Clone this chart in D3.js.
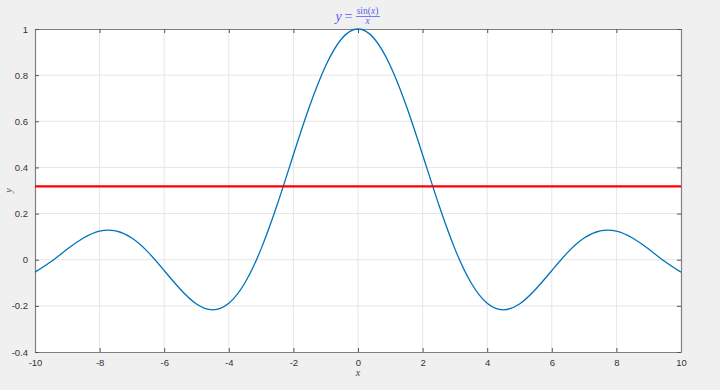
<!DOCTYPE html>
<html>
<head>
<meta charset="utf-8">
<script src="https://cdn.jsdelivr.net/npm/d3@7"></script>
<style>
  html, body { margin: 0; padding: 0; background: #f0f0f0; }
  svg { display: block; font-family: "Liberation Sans", Arial, sans-serif; }
</style>
</head>
<body>
<div id="chart"></div>
<script>
// values
const xValues = [-10, -9.5, -9, -8.5, -8, -7.5, -7, -6.5, -6, -5.5, -5, -4.5, -4, -3.5, -3, -2.5, -2, -1.5, -1, -0.5,
  0, 0.5, 1, 1.5, 2, 2.5, 3, 3.5, 4, 4.5, 5, 5.5, 6, 6.5, 7, 7.5, 8, 8.5, 9, 9.5, 10];
const yValues = [-0.054, -0.008, 0.046, 0.094, 0.124, 0.125, 0.094, 0.033, -0.047, -0.128, -0.192, -0.217, -0.189, -0.100, 0.047, 0.239, 0.455, 0.665, 0.841, 0.959,
  1, 0.959, 0.841, 0.665, 0.455, 0.239, 0.047, -0.100, -0.189, -0.217, -0.192, -0.128, -0.047, 0.033, 0.094, 0.125, 0.124, 0.094, 0.046, -0.008, -0.054];
const refLevel = 0.318;
const xTicks = [-10, -8, -6, -4, -2, 0, 2, 4, 6, 8, 10];
const yTicks = [-0.4, -0.2, 0, 0.2, 0.4, 0.6, 0.8, 1];

const W = 720, H = 390;
const margin = { top: 29, right: 39, bottom: 38, left: 35 };
const width = W - margin.left - margin.right;
const height = H - margin.top - margin.bottom;

const svg = d3.select("#chart").append("svg")
  .attr("width", W).attr("height", H);

const g = svg.append("g").attr("transform", `translate(${margin.left},${margin.top})`);

const x = d3.scaleLinear().domain([-10, 10]).range([0, width]);
const y = d3.scaleLinear().domain([-0.4, 1]).range([height, 0]);

g.append("rect").attr("width", width).attr("height", height).attr("fill", "#fff");

// grid
g.selectAll(".vgrid").data(xTicks.slice(1, -1)).enter().append("line")
  .attr("x1", d => x(d)).attr("x2", d => x(d)).attr("y1", 0).attr("y2", height)
  .attr("stroke", "#e6e6e6").attr("stroke-width", 1);
g.selectAll(".hgrid").data(yTicks.slice(1, -1)).enter().append("line")
  .attr("y1", d => y(d)).attr("y2", d => y(d)).attr("x1", 0).attr("x2", width)
  .attr("stroke", "#e6e6e6").attr("stroke-width", 1);

const axisColor = "#808080";
const fmt = d => String(+d.toFixed(1));  // plain hyphen minus, like the reference

// axes (box on, ticks inside)
const styleAxis = ax => {
  ax.select(".domain").attr("stroke", axisColor).attr("stroke-width", 1.2);
  ax.selectAll(".tick line").attr("stroke", "#555");
  ax.selectAll(".tick text").attr("fill", "#333").style("font-size", "9.5px");
};
g.append("g").attr("transform", `translate(0,${height})`)
  .call(d3.axisBottom(x).tickValues(xTicks).tickFormat(fmt).tickSizeInner(-4).tickSizeOuter(0).tickPadding(7))
  .call(styleAxis);
g.append("g")
  .call(d3.axisTop(x).tickValues(xTicks).tickFormat("").tickSizeInner(-4).tickSizeOuter(0))
  .call(styleAxis);
g.append("g")
  .call(d3.axisLeft(y).tickValues(yTicks).tickFormat(fmt).tickSizeInner(-4).tickSizeOuter(0).tickPadding(7))
  .call(styleAxis);
g.append("g").attr("transform", `translate(${width},0)`)
  .call(d3.axisRight(y).tickValues(yTicks).tickFormat("").tickSizeInner(-4).tickSizeOuter(0))
  .call(styleAxis);

// curve
const pts = xValues.map((v, i) => [v, yValues[i]]);
g.append("path").datum(pts)
  .attr("fill", "none").attr("stroke", "#0072BD").attr("stroke-width", 1.3)
  .attr("d", d3.line().x(d => x(d[0])).y(d => y(d[1])).curve(d3.curveNatural));

// reference line
g.append("line")
  .attr("x1", x(-10)).attr("x2", x(10)).attr("y1", y(refLevel)).attr("y2", y(refLevel))
  .attr("stroke", "#ff0000").attr("stroke-width", 2.2);

// axis labels
const serif = "'Liberation Serif', 'DejaVu Serif', serif";
svg.append("text").attr("x", margin.left + width / 2).attr("y", 376)
  .attr("text-anchor", "middle").attr("fill", "#444")
  .style("font-family", serif).style("font-style", "italic").style("font-size", "10px")
  .text("x");
svg.append("text").attr("transform", `translate(12,${margin.top + height / 2}) rotate(-90)`)
  .attr("text-anchor", "middle").attr("fill", "#444")
  .style("font-family", serif).style("font-style", "italic").style("font-size", "10px")
  .text("y");

// title: y = sin(x)/x
const titleColor = "#5b5bf2";
const t = svg.append("g").attr("fill", titleColor).style("font-family", serif);
t.append("text").attr("x", 338.5).attr("y", 21).attr("text-anchor", "middle")
  .style("font-style", "italic").style("font-size", "14px").text("y");
t.append("text").attr("x", 348.5).attr("y", 21).attr("text-anchor", "middle")
  .style("font-size", "14px").text("=");
const num = t.append("text").attr("x", 367.5).attr("y", 13.5).attr("text-anchor", "middle").style("font-size", "9.5px");
num.append("tspan").text("sin(");
num.append("tspan").style("font-style", "italic").text("x");
num.append("tspan").text(")");
t.append("line").attr("x1", 356).attr("x2", 380).attr("y1", 16.5).attr("y2", 16.5)
  .attr("stroke", titleColor).attr("stroke-width", 0.8);
t.append("text").attr("x", 367.5).attr("y", 24).attr("text-anchor", "middle")
  .style("font-style", "italic").style("font-size", "9.5px").text("x");
</script>
</body>
</html>
